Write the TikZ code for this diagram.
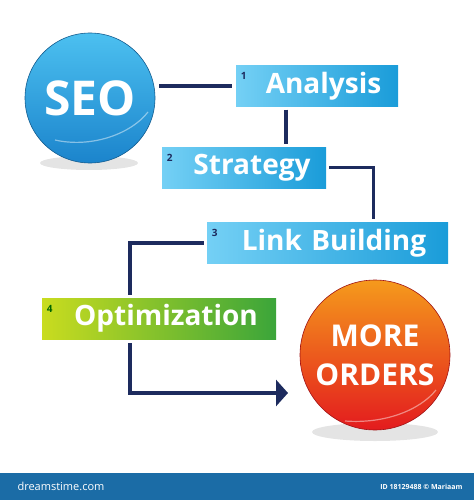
\documentclass[tikz,border=0pt]{standalone}
\usepackage{fontspec}
\setmainfont{Open Sans}
\usetikzlibrary{arrows.meta}

\definecolor{navy}{HTML}{1D2B5E}
\definecolor{boxlight}{HTML}{74D0F5}
\definecolor{boxdark}{HTML}{1A9CD9}
\definecolor{greenlight}{HTML}{C9DC1F}
\definecolor{greendark}{HTML}{3BA53A}
\definecolor{seotop}{HTML}{4CC0F0}
\definecolor{seobottom}{HTML}{1B84CC}
\definecolor{ordertop}{HTML}{F59A1C}
\definecolor{orderbottom}{HTML}{E31B1E}
\definecolor{shadowgrey}{HTML}{E4E4E4}
\definecolor{banner}{HTML}{1B6CA6}

\begin{document}
\begin{tikzpicture}[x=1pt,y=-1pt]
			\tikzstyle{stepbox}=[minimum height=41pt, inner sep=0pt, shading=axis, left color=boxlight, right color=boxdark, text=white, font=\bfseries\fontsize{28}{28}\selectfont]
			\tikzstyle{greenbox}=[stepbox, left color=greenlight, right color=greendark]
			\tikzstyle{num}=[inner sep=0pt, text=navy, font=\bfseries\fontsize{10}{10}\selectfont]
			\tikzstyle{ball}=[circle, inner sep=0pt, text=white, shading=axis]
			\tikzstyle{shade} = [fill=shadowgrey]
			\tikzset{edge/.style = {draw=navy, line width=3.3pt}}
			
			\useasboundingbox (0,0) rectangle (474,500);
			
			% ground shadows under the two balls
			\fill[shade] (89,163) ellipse (49 and 7);
			\fill[shade] (375,432) ellipse (63 and 9);
			
			\node[ball, minimum size=130pt, top color=seotop, bottom color=seobottom, draw=seobottom!70!black, line width=0.6pt, font=\bfseries\fontsize{48}{48}\selectfont](seo) at (90,98) {SEO};
			\node[ball, minimum size=150pt, top color=ordertop, bottom color=orderbottom, draw=orderbottom!70!black, line width=0.6pt, align=center, font=\bfseries\fontsize{30}{39}\selectfont](orders) at (375,355) {MORE\\ORDERS};
			\draw[white, opacity=0.45, line width=1.2pt] (55,140) .. controls (90,148) and (130,135) .. (148,112);
			\draw[white, opacity=0.45, line width=1.2pt] (345,421) .. controls (385,424) and (420,410) .. (436,390);
			
			\node[stepbox, minimum width=162pt](analysis) at (317,86) {\hspace{13pt}Analysis};
			\node[stepbox, minimum width=164pt](strategy) at (244,167.5) {\hspace{16pt}Strategy};
			\node[stepbox, minimum width=241pt](link) at (327.5,243) {\hspace{13pt}Link\,\,Building};
			\node[greenbox, minimum width=234pt](optim) at (159,318.5) {\hspace{14pt}Optimization};
			
			\node[num](n1) at ([xshift=8pt,yshift=-11pt]analysis.north west) {1};
			\node[num](n2) at ([xshift=8pt,yshift=-11pt]strategy.north west) {2};
			\node[num](n3) at ([xshift=8pt,yshift=-11pt]link.north west) {3};
			\node[num, text=green!40!black](n4) at ([xshift=8pt,yshift=-11pt]optim.north west) {4};
			
			\draw[edge, shorten <=4pt, shorten >=4pt](analysis.west) -- (analysis.west -| seo.east);
			\draw[edge, shorten <=3pt, shorten >=3pt]([xshift=-31pt]analysis.south) -- ([xshift=-31pt]analysis.south |- strategy.north);
			\draw[edge, shorten <=3pt, shorten >=3pt](strategy.east) -| ([xshift=46pt]link.north);
			\draw[edge, shorten <=3pt, shorten >=3pt](link.west) -| ([xshift=-29pt]optim.north);
			\coordinate (tip) at (288,393);
			\draw[edge, shorten <=4pt, -{Triangle[length=12pt,width=26pt]}]([xshift=-29pt]optim.south) |- (tip);
			
			% stock banner
			\fill[banner] (0,473) rectangle (474,500);
			\node[text=white, anchor=west, font=\fontsize{11}{11}\selectfont](site) at (14,486.5) {dreamstime.com};
			\node[text=white, anchor=east, font=\bfseries\fontsize{7}{7}\selectfont](credit) at (466,486.5) {ID 18129488 \textcopyright\ Mariaam};
			
\end{tikzpicture}
\end{document}
